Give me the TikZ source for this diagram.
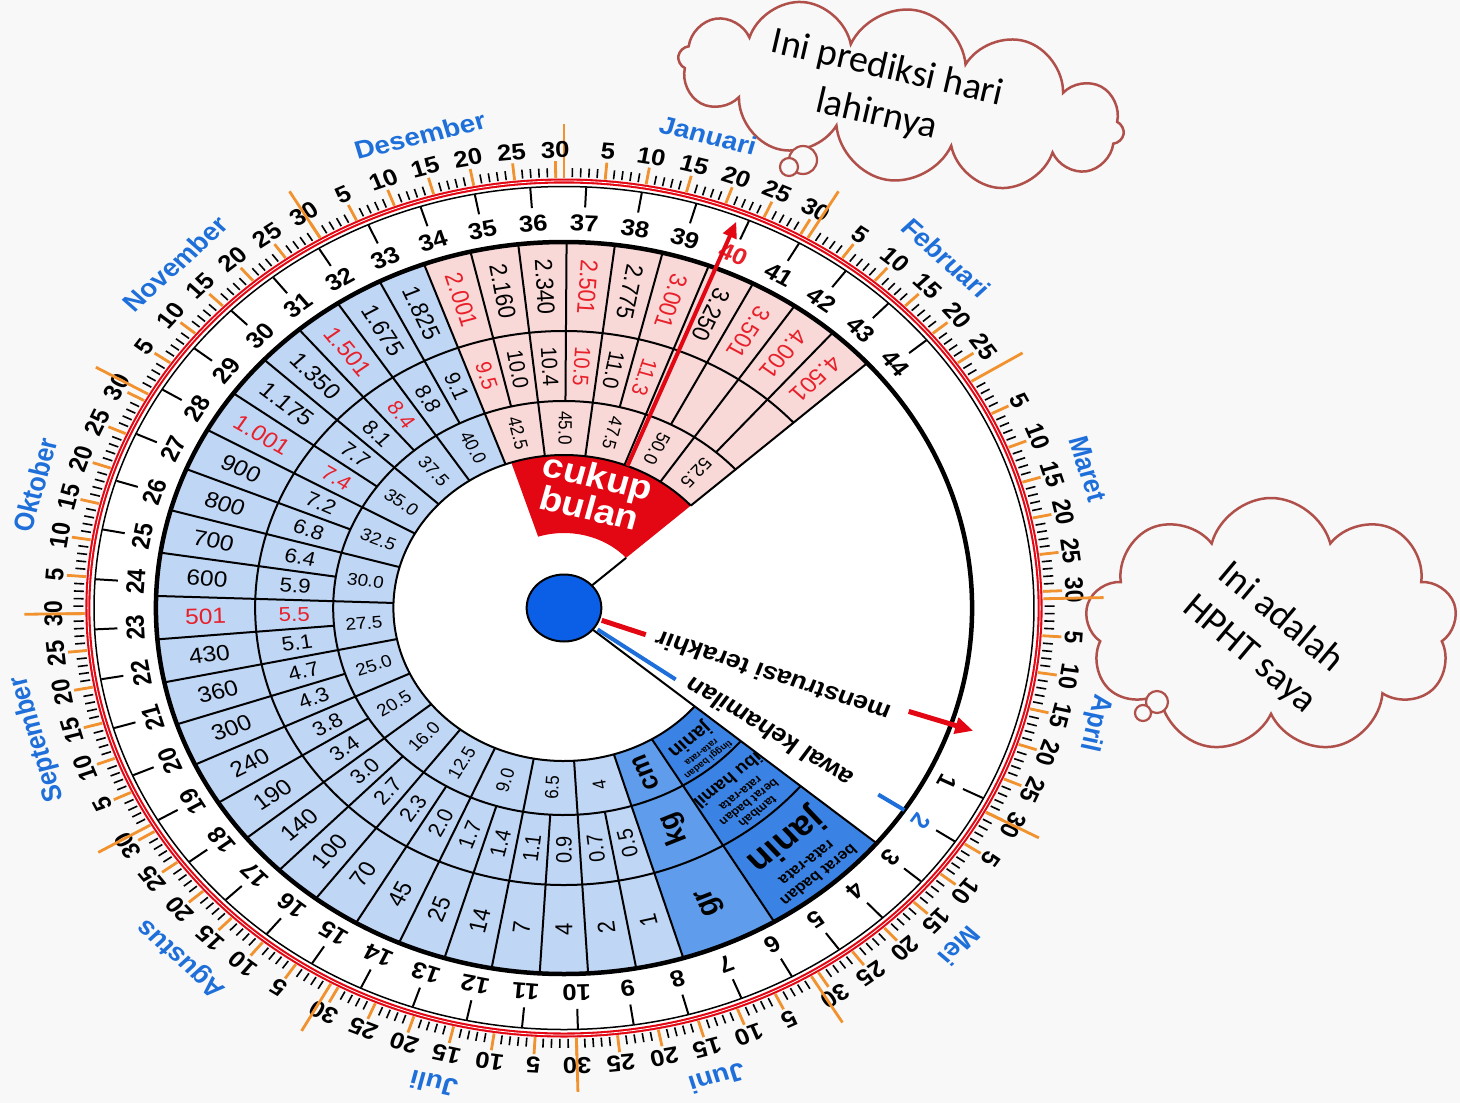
\documentclass[tikz,border=0pt]{standalone}
\usepackage{fontspec}
\setmainfont{Liberation Sans}
\newfontfamily\cloudfont{Carlito}
\usetikzlibrary{shapes.symbols,arrows.meta}
\definecolor{bgc}{HTML}{F8F8F8}
\definecolor{lbl}{HTML}{BFD6F5}
\definecolor{hdr}{HTML}{5F9DEC}
\definecolor{dkb}{HTML}{3A83E4}
\definecolor{pnk}{HTML}{F9D8D8}
\definecolor{rd}{HTML}{E30613}
\definecolor{valred}{HTML}{E8202A}
\definecolor{mon}{HTML}{1E6FD9}
\definecolor{org}{HTML}{F2922E}
\definecolor{cld}{HTML}{B0504B}
\definecolor{dotb}{HTML}{0A5FE6}
\colorlet{K}{black}
\colorlet{R}{valred}
\newcommand\fs[1]{\fontsize{#1}{#1}\selectfont}
\newcommand\sect[4]{(90-#1:#3) arc[start angle=90-#1,end angle=90-#2,radius=#3] -- (90-#2:#4) arc[start angle=90-#2,end angle=90-#1,radius=#4] -- cycle}
\def\cw{6.8056}
\def\dg{0.98630137}
\tikzset{
  gridl/.style={line width=2},
  tick/.style={line width=1.6},
  otick/.style={org,line width=2.8},
  cloudbox/.style={cloud,draw=cld,fill=bgc,line width=2.5},
  bubble/.style={draw=cld,fill=bgc,line width=2.2},
  cloudtxt/.style={font=\cloudfont\fontsize{38}{48}\selectfont,align=center}
}
\begin{document}
\begin{tikzpicture}[x=1pt,y=1pt]
\useasboundingbox (0,0) rectangle (1460,-1103);
\fill[bgc] (0,0) rectangle (1460,-1103);
% clouds
\node[cloudbox,cloud puffs=12,aspect=2.5,minimum width=452,minimum height=172,rotate=-10] (c1) at (901,-95) {};
\node[cloudtxt,rotate=-13] (t1) at (882,-92) {Ini prediksi hari\\lahirnya};
\draw[bubble] (803,-160) circle[radius=14];
\draw[bubble] (789,-167) circle[radius=9];
\node[cloudbox,cloud puffs=9,aspect=1.45,minimum width=372,minimum height=256] (c2) at (1271,-626) {};
\node[cloudtxt,rotate=-40] (t2) at (1265,-636) {Ini adalah\\HPHT saya};
\draw[bubble] (1157,-702) circle[radius=11];
\draw[bubble] (1143,-713) circle[radius=8];
\begin{scope}[shift={(564,-608)},xscale=1.115,every node/.style={transform shape,inner sep=0pt}]
% inner disc
\fill[white] (0,0) circle[radius=427];
% outer ring data (gram)
\foreach \vv/\cc [count=\ii] in {1/K,2/K,4/K,7/K,14/K,25/K,45/K,70/K,100/K,140/K,190/K,240/K,300/K,360/K,430/K,501/R,600/K,700/K,800/K,900/K,1.001/R,1.175/K,1.350/K,1.501/R,1.675/K,1.825/K,2.001/R,2.160/K,2.340/K,2.501/R,2.775/K,3.001/R,3.250/K,3.501/R,4.001/R,4.501/R}{
  \pgfmathsetmacro\ta{163+(\ii-1)*\cw}
  \pgfmathsetmacro\tb{163+\ii*\cw}
  \pgfmathsetmacro\tm{90-(\ta+\tb)/2}
  \ifnum\ii>26 \def\fc{pnk}\else\def\fc{lbl}\fi
  \fill[\fc] \sect{\ta}{\tb}{277}{366};
  \node[text=\cc,rotate=\tm+180,font=\fs{22}] at (\tm:321.5) {\vv};
}
% middle ring (kg)
\foreach \vv/\cc [count=\ii] in {0.5/K,0.7/K,0.9/K,1.1/K,1.4/K,1.7/K,2.0/K,2.3/K,2.7/K,3.0/K,3.4/K,3.8/K,4.3/K,4.7/K,5.1/K,5.5/R,5.9/K,6.4/K,6.8/K,7.2/K,7.4/R,7.7/K,8.1/K,8.4/R,8.8/K,9.1/K,9.5/R,10.0/K,10.4/K,10.5/R,11.0/K,11.3/R,{}/K,{}/K,{}/K,{}/K}{
  \pgfmathsetmacro\ta{163+(\ii-1)*\cw}
  \pgfmathsetmacro\tb{163+\ii*\cw}
  \pgfmathsetmacro\tm{90-(\ta+\tb)/2}
  \ifnum\ii>26 \def\fc{pnk}\else\def\fc{lbl}\fi
  \fill[\fc] \sect{\ta}{\tb}{207}{277};
  \node[text=\cc,rotate=\tm+180,font=\fs{20}] at (\tm:242) {\vv};
}
% inner ring (cm)
\foreach \vv [count=\ii] in {4,6.5,9.0,12.5,16.0,20.5,25.0,27.5,30.0,32.5,35.0,37.5,40.0,42.5,45.0,47.5,50.0,52.5}{
  \pgfmathsetmacro\ta{163+(\ii-1)*2*\cw}
  \pgfmathsetmacro\tb{163+\ii*2*\cw}
  \pgfmathsetmacro\tm{90-(\ta+\tb)/2}
  \ifnum\ii>13 \def\fc{pnk}\else\def\fc{lbl}\fi
  \fill[\fc] \sect{\ta}{\tb}{153}{207};
  \node[rotate=\tm+180,font=\fs{17}] at (\tm:180) {\vv};
}
% header cells
\fill[hdr] \sect{149}{163}{153}{366};
\fill[dkb] \sect{130}{149}{153}{366};
\node[rotate=114,font=\bfseries\fs{28}] at (90-156:321.5) {gr};
\node[rotate=114,font=\bfseries\fs{27}] at (90-156:242) {kg};
\node[rotate=114,font=\bfseries\fs{25}] at (90-156:180) {cm};
% label cells
\begin{scope}[every node/.append style={rotate=-139.5,font=\bfseries\fs{15}}]
\node at (90-139.5:352) {berat badan};
\node at (90-139.5:335) {rata-rata};
\node[font=\bfseries\fs{34}] at (90-139.5:305) {janin};
\node[font=\bfseries\fs{11.5}] at (90-139.5:268) {tambah};
\node[font=\bfseries\fs{11.5}] at (90-139.5:256) {berat badan};
\node[font=\bfseries\fs{11.5}] at (90-139.5:244) {rata-rata};
\node[font=\bfseries\fs{17}] at (90-139.5:227) {ibu hamil};
\node[font=\bfseries\fs{9}] at (90-139.5:199) {tinggi badan};
\node[font=\bfseries\fs{9}] at (90-139.5:190) {rata-rata};
\node[font=\bfseries\fs{19}] at (90-139.5:173) {janin};
\end{scope}
% red sector
\fill[rd] \sect{342}{408}{75}{153};
\node[rotate=-14,text=white,font=\bfseries\fontsize{34}{31}\selectfont,align=center] at (90-13:119) {cukup\\bulan};
% grid lines
\foreach \k in {0,...,36}{\pgfmathsetmacro\ang{90-(163+\k*\cw)}\draw[gridl] (\ang:207) -- (\ang:366);}
\foreach \k in {0,...,18}{\pgfmathsetmacro\ang{90-(163+2*\k*\cw)}\draw[gridl] (\ang:153) -- (\ang:207);}
\draw[gridl] (90-149:153) -- (90-149:366);
\draw[gridl] (90-130:33) -- (90-130:366);
\draw[gridl] (90-48:33) -- (90-48:75);
\draw[gridl] (-40:277) arc[start angle=-40,end angle=-318,radius=277];
\draw[gridl] (-40:207) arc[start angle=-40,end angle=-318,radius=207];
\draw[gridl] (-40:153) arc[start angle=-40,end angle=-318,radius=153];
\draw[line width=4.5] (0,0) circle[radius=366];
\draw[line width=1.5] (0,0) circle[radius=421.5];
\draw[rd,line width=5] (0,0) circle[radius=427];
\draw[white,line width=0.8] (0,0) circle[radius=427];
% day ticks
\foreach \d in {0,...,364}{\pgfmathsetmacro\ang{90-\d*\dg}\draw[tick] (\ang:431) -- (\ang:440);}
% months
\foreach \ms/\ml/\mn in {0/31/Januari,31/28/Februari,59/31/Maret,90/30/April,120/31/Mei,151/30/Juni,181/31/Juli,212/31/Agustus,243/30/September,273/31/Oktober,304/30/November,334/31/Desember}{
  \pgfmathsetmacro\ang{90-\ms*\dg}
  \draw[otick] (\ang:430) -- (\ang:484);
  \foreach \k in {5,10,...,30}{
    \ifnum\k>\ml\relax\else
      \pgfmathsetmacro\aa{90-(\ms+\k)*\dg}
      \draw[otick] (\aa:430) -- (\aa:447);
      \node[rotate=\aa-90,font=\bfseries\fs{23}] at (\aa:458) {\k};
    \fi
  }
  \pgfmathsetmacro\am{90-(\ms+\ml/2)*\dg}
  \node[rotate=\am-90,text=mon,font=\bfseries\fs{25}] at (\am:490) {\mn};
}
% weeks
\foreach \n in {1,...,44}{
  \pgfmathsetmacro\ang{90-(110+6.83*\n)}
  \draw[line width=2] (\ang:421) -- (\ang:401);
  \ifnum\n=40 \def\wc{valred}\else\ifnum\n=2 \def\wc{mon}\else\def\wc{black}\fi\fi
  \node[rotate=\ang-90,text=\wc,font=\bfseries\fs{23}] at (\ang:385) {\n};
}
% pointers
\draw[rd,line width=4,-{Triangle[length=16,width=14]}] (90-21.8:153) -- (90-21.8:416);
\draw[rd,line width=5] (90-110:36) -- (90-110:78);
\node[rotate=160,font=\bfseries\fs{24}] at (90-110:199) {menstruasi terakhir};
\draw[rd,line width=5,-{Triangle[length=18,width=16]}] (90-108.5:326) -- (90-108.5:387);
\draw[mon,line width=4] (90-125.5:37) -- (90-125.5:123);
\node[rotate=146,font=\bfseries\fs{24}] at (90-124:222) {awal kehamilan};
\draw[mon,line width=4] (90-123.5:338) -- (90-123.5:366);
\filldraw[fill=dotb,draw=black,line width=2] (0,0) circle[radius=33.5];
\end{scope}
\end{tikzpicture}
\end{document}
